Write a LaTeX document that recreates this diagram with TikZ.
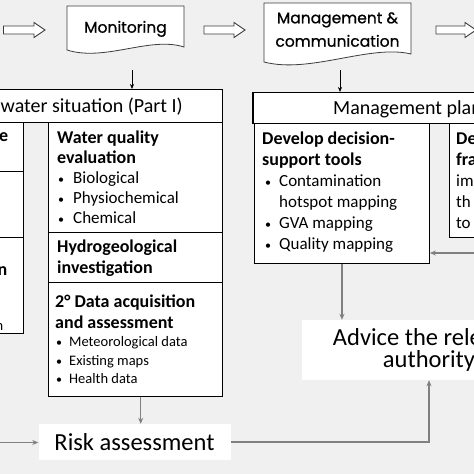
\documentclass[tikz,border=0pt]{standalone}
\usepackage{fontspec}
\setmainfont{Carlito}
\newfontfamily\gothic[FakeBold=0.8]{Poppins}
\usetikzlibrary{arrows.meta}
\definecolor{bg}{RGB}{240,240,240}
\definecolor{conn}{RGB}{128,128,128}
\definecolor{docline}{RGB}{60,60,60}
\newcommand{\bul}[1]{\llap{{\fontsize{12}{12}\selectfont\textbullet}\hspace{#1}}}
\begin{document}
\begin{tikzpicture}[x=1pt,y=-1pt,
  box/.style={draw=black, line width=0.9pt, fill=white, anchor=north west, inner sep=0pt},
  doc/.style={draw=docline, line width=0.8pt, fill=white},
  hollow/.style={draw=docline, line width=0.9pt, fill=white},
  darr/.style={-{Stealth[length=5pt,width=4pt]}, line width=0.6pt, black},
  garr/.style={-{Stealth[length=6pt,width=5pt]}, line width=1.1pt, conn},
  hd/.style={font=\bfseries\fontsize{18}{21}\selectfont, anchor=base west, inner sep=0pt},
  bd/.style={font=\fontsize{17}{21}\selectfont, anchor=base west, inner sep=0pt},
  sm/.style={font=\fontsize{14.5}{18}\selectfont, anchor=base west, inner sep=0pt},
  big/.style={font=\fontsize{20}{24}\selectfont, anchor=base west, inner sep=0pt},
  gt/.style={font=\gothic\fontsize{15.5}{18}\selectfont, anchor=base, inner sep=0pt},
  whitebox/.style={fill=white, inner sep=0pt, font=\fontsize{24.5}{22}\selectfont, align=center}
]
\useasboundingbox (0,0) rectangle (474,474);
\clip (0,0) rectangle (474,474);
\fill[bg] (0,0) rectangle (474,474);

% hollow block arrows
\foreach \xa/\xh/\xb in {3.5/34/45, 204/234/245, 436/465/476}
  \path[hollow] (\xa,26) -- (\xh,26) -- (\xh,22.5) -- (\xb,30) -- (\xh,37.5) -- (\xh,34) -- (\xa,34) -- cycle;

% documents
\path[doc] (67,6) -- (184,6) -- (184,47) .. controls (150,36) and (105,62) .. (67,50) -- cycle;
\node[gt] (mon) at (125.5,32.7) {Monitoring};
\path[doc] (264,3) -- (411,3) -- (411,54) .. controls (370,44) and (310,74) .. (264,62) -- cycle;
\node[gt] (mgc1) at (337.5,23.3) {Management \&};
\node[gt] (mgc2) at (337.5,46.7) {communication};

% groundwater part
\node[box, minimum width=227, minimum height=33] (ws) at (-5,89) {};
\node[big] (wst) at (0.5,112.3) {water situation (Part I)};
\node[box, minimum width=28, minimum height=49] (l1) at (-5,122) {};
\node[box, minimum width=28, minimum height=66] (l2) at (-5,171) {};
\node[box, minimum width=28, minimum height=96] (l3) at (-5,237) {};
\node[hd, anchor=base east] (l1t) at (8.5,141.7) {e};
\node[hd, anchor=base east] (l3t) at (7.5,275) {n};
\node[sm, anchor=base east] (l3s) at (3.5,330) {n};

\node[box, minimum width=174.5, minimum height=110] (wq) at (47.5,122) {};
\node[hd] (wq1) at (57,143.3) {Water quality};
\node[hd] (wq2) at (57,163.3) {evaluation};
\foreach \t [count=\i] in {Biological, Physiochemical, Chemical}
  \node[bd] (wqb\i) at (73,{183.3+20*(\i-1)}) {\bul{9pt}\t};

\node[box, minimum width=174.5, minimum height=50] (hy) at (47.5,232) {};
\node[hd] (hy1) at (57,252.7) {Hydrogeological};
\node[hd] (hy2) at (57,273.3) {investigation};

\node[box, minimum width=174.5, minimum height=114] (dat) at (47.5,282) {};
\node[hd] (dat1) at (55,307.3) {2° Data acquisition};
\node[hd] (dat2) at (55,328.3) {and assessment};
\foreach \t [count=\i] in {Meteorological data, Existing maps, Health data}
  \node[sm] (datb\i) at (69,{346.7+18.3*(\i-1)}) {\bul{7pt}\t};

% management plan part
\node[box, minimum width=230, minimum height=31] (mp) at (253,92) {};
\draw[line width=2pt] (mp.north west) -- (mp.south west);
\node[big] (mpt) at (333,114.3) {Management plan};
\node[box, minimum width=175, minimum height=140] (dev) at (254,123) {};
\node[hd] (dev1) at (262,144) {Develop decision-};
\node[hd] (dev2) at (262,165) {support tools};
\node[bd] (devb1) at (279,186) {\bul{8pt}Contamination};
\node[bd] (devb2) at (279,207.7) {hotspot mapping};
\node[bd] (devb3) at (279,228.3) {\bul{8pt}GVA mapping};
\node[bd] (devb4) at (279,249.3) {\bul{8pt}Quality mapping};
\node[box, minimum width=40, minimum height=114] (fr) at (449,123) {};
\node[hd] (fr1) at (456,144) {De};
\node[hd] (fr2) at (456,165) {fra};
\node[bd] (fr3) at (456,186) {im};
\node[bd] (fr4) at (456,207.7) {th};
\node[bd] (fr5) at (456,228.3) {to};

% white boxes
\node[whitebox, minimum width=192, minimum height=36] (risk) at (134.5,442) {Risk assessment};
\node[whitebox, minimum width=254, minimum height=60] (adv) at (429,350) {Advice the relevant\\authority};

% connectors
\coordinate (monout) at (132,70);
\coordinate (mgcout) at (340,70);
\draw[darr] (monout) -- (monout |- ws.north);
\draw[darr] (mgcout) -- (mgcout |- mp.north);
\draw[garr] ([xshift=5.5pt]dat.south) -- ([xshift=5.5pt]dat.south |- risk.north);
\coordinate (leftin) at (0,442.5);
\draw[garr] (leftin) -- (leftin -| risk.west);
\draw[garr] (risk.east) -| (adv.south);
\draw[garr] (dev.south) -- (dev.south |- adv.north);
\coordinate (rightin) at (476,253);
\draw[garr] (rightin) -- (rightin -| dev.east);
\end{tikzpicture}
\end{document}
